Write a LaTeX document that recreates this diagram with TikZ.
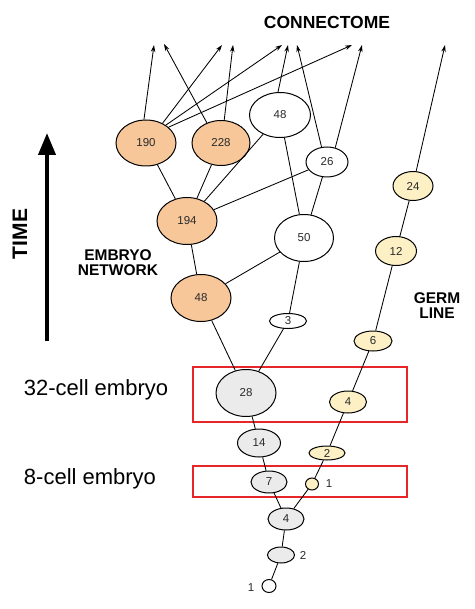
\documentclass[tikz,border=0pt]{standalone}
\usepackage{fontspec}
\setmainfont{Liberation Sans}
\usetikzlibrary{shapes.geometric,arrows.meta}
\definecolor{orangefill}{HTML}{F7C79A}
\definecolor{yellowfill}{HTML}{FCF0C4}
\definecolor{greyfill}{HTML}{EBEBEB}
\definecolor{boxred}{HTML}{E8262A}
\definecolor{txtgrey}{HTML}{2A2A2A}
\begin{document}
\begin{tikzpicture}[x=1pt,y=-1pt,
  cell/.style={ellipse,draw,line width=1pt,inner sep=0pt,font=\fontsize{11.5}{13}\selectfont,text=txtgrey},
  orangecell/.style={cell,fill=orangefill},
  yellowcell/.style={cell,fill=yellowfill},
  greycell/.style={cell,fill=greyfill},
  whitecell/.style={cell,fill=white},
  edge/.style={line width=0.85pt},
  outarrow/.style={line width=0.85pt,-{Stealth[length=7pt,width=4.5pt]}},
  redbox/.style={draw=boxred,line width=1.8pt},
  biglabel/.style={font=\fontsize{22}{26}\selectfont},
  boldlabel/.style={font=\bfseries\fontsize{15.5}{18}\selectfont,align=center}
]
\useasboundingbox (0,0) rectangle (474,609);
\fill[white] (0,0) rectangle (474,609);

% red boxes
\node[redbox,minimum width=214pt,minimum height=55pt,inner sep=0pt] (box32) at (300,394.5) {};
\node[redbox,minimum width=214pt,minimum height=31pt,inner sep=0pt] (box8) at (300,481.5) {};

% nodes
\node[orangecell,minimum width=60pt,minimum height=46pt] (n190) at (146,143) {190};
\node[orangecell,minimum width=58pt,minimum height=45pt] (n228) at (221,143) {228};
\node[whitecell,minimum width=61pt,minimum height=45pt] (w48) at (280,115) {48};
\node[whitecell,minimum width=42pt,minimum height=30pt] (n26) at (327,162) {26};
\node[yellowcell,minimum width=40pt,minimum height=29pt] (n24) at (413,186) {24};
\node[orangecell,minimum width=60pt,minimum height=47pt] (n194) at (187,221) {194};
\node[whitecell,minimum width=59pt,minimum height=47pt] (n50) at (304,238) {50};
\node[yellowcell,minimum width=41pt,minimum height=29pt] (n12) at (396,251) {12};
\node[orangecell,minimum width=60pt,minimum height=47pt] (o48) at (201,298) {48};
\node[whitecell,minimum width=37pt,minimum height=15pt] (n3) at (288,321) {3};
\node[yellowcell,minimum width=38pt,minimum height=20pt] (n6) at (373,341) {6};
\node[greycell,minimum width=60pt,minimum height=47pt] (n28) at (246,393) {28};
\node[yellowcell,minimum width=37pt,minimum height=22pt] (y4) at (348,402) {4};
\node[greycell,minimum width=43pt,minimum height=28pt] (n14) at (259,443) {14};
\node[yellowcell,minimum width=36pt,minimum height=14pt] (y2) at (327,453) {2};
\node[greycell,minimum width=36pt,minimum height=22pt] (n7) at (269,482) {7};
\node[yellowcell,minimum width=13pt,minimum height=12pt] (y1) at (312,484) {};
\node[greycell,minimum width=36pt,minimum height=22pt] (g4) at (286,519) {4};
\node[greycell,minimum width=27pt,minimum height=16pt] (g2) at (281,555) {};
\node[whitecell,minimum width=14pt,minimum height=13pt] (g1) at (269,586) {};

% small side labels
\node[font=\fontsize{11.5}{13}\selectfont,text=txtgrey] (l1y) at (329,484) {1};
\node[font=\fontsize{11.5}{13}\selectfont,text=txtgrey] (l2g) at (303,555) {2};
\node[font=\fontsize{11.5}{13}\selectfont,text=txtgrey] (l1g) at (251,588) {1};

% arrow tips
\coordinate (t1) at (154,45);
\coordinate (t2) at (164,44);
\coordinate (t3) at (222,45);
\coordinate (t4) at (233,45);
\coordinate (t5) at (282,45);
\coordinate (t6) at (288,45);
\coordinate (t7) at (297,45);
\coordinate (t8) at (352,45);
\coordinate (t9) at (362,45);
\coordinate (t10) at (445,45);

% outgoing arrows
\draw[outarrow] (n190.95) -- (t1);
\draw[outarrow] (n228.125) -- (t2);
\draw[outarrow] (n190.50) -- (t3);
\draw[outarrow] (n228.82) -- (t4);
\draw[outarrow] (n190.42) -- (t5);
\draw[outarrow] (w48.95) -- (t6);
\draw[outarrow] (n26.110) -- (t7);
\draw[outarrow] (n190.35) -- (t8);
\draw[outarrow] (n26.60) -- (t9);
\draw[outarrow] (n24.78) -- (t10);

% tree edges
\draw[edge] (n190) -- (n194);
\draw[edge] (n228) -- (n194);
\draw[edge] (n194) -- (w48);
\draw[edge] (n194) -- (n26);
\draw[edge] (w48) -- (n50);
\draw[edge] (n26) -- (n50);
\draw[edge] (n24) -- (n12);
\draw[edge] (n194) -- (o48);
\draw[edge] (n50) -- (o48);
\draw[edge] (n50) -- (n3);
\draw[edge] (o48) -- (n28);
\draw[edge] (n3) -- (n28);
\draw[edge] (n12) -- (n6);
\draw[edge] (n6) -- (y4);
\draw[edge] (n28) -- (n14);
\draw[edge] (n14) -- (n7);
\draw[edge] (n7) -- (g4);
\draw[edge] (y4) -- (y2);
\draw[edge] (y2) -- (y1);
\draw[edge] (y1) -- (g4);
\draw[edge] (g4) -- (g2);
\draw[edge] (g2) -- (g1);

% labels
\node[font=\bfseries\fontsize{17.5}{20}\selectfont] (connectome) at (327,22) {CONNECTOME};
\node[boldlabel] (embryo) at (118,263) {EMBRYO\\[-3pt]NETWORK};
\node[boldlabel] (germ) at (437,306) {GERM\\[-3pt]LINE};
\node[font=\bfseries\fontsize{21}{24}\selectfont,rotate=90] (time) at (20,234) {TIME};
\node[biglabel] (c32) at (96,390) {32-cell embryo};
\node[biglabel] (c8) at (90,479) {8-cell embryo};

% time arrow
\coordinate (tbot) at (47,341);
\coordinate (ttop) at (47,133);
\draw[line width=4pt,-{Triangle[length=22pt,width=17pt]}] (tbot) -- (ttop);
\end{tikzpicture}
\end{document}
